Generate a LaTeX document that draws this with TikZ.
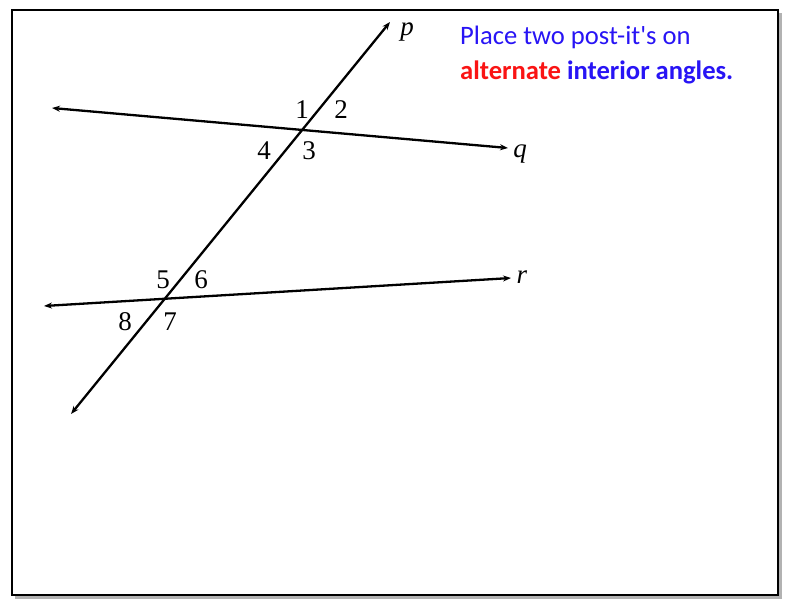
\documentclass[tikz,border=0pt]{standalone}
\usepackage{fontspec}
\setmainfont{Liberation Serif}
\newfontfamily\calibri{Carlito}
\usetikzlibrary{arrows.meta}
\definecolor{txtblue}{RGB}{40,20,245}
\definecolor{txtred}{RGB}{250,20,20}
\begin{document}
\begin{tikzpicture}[x=1pt,y=-1pt,
  geoline/.style={line width=2.3pt, {Stealth[length=8pt,width=6pt]}-{Stealth[length=8pt,width=6pt]}},
  num/.style={font=\fontsize{27}{27}\selectfont, inner sep=0pt},
  msg/.style={font=\calibri\fontsize{26.6}{26.6}\selectfont, inner sep=0pt, anchor=base west}]
\useasboundingbox (0,0) rectangle (789,602);
\fill[gray!60] (15,13) rectangle (782,599);
\draw[line width=1.5pt, fill=white] (12,10) rectangle (778,595);
\coordinate (q1) at (52,108);
\coordinate (q2) at (508,148);
\coordinate (p1) at (71,414);
\coordinate (p2) at (390,22);
\coordinate (r1) at (44,306);
\coordinate (r2) at (511,278);
\draw[geoline] (q1) -- (q2);
\draw[geoline] (p1) -- (p2);
\draw[geoline] (r1) -- (r2);
\node[num] (n1) at (302,110) {1};
\node[num] (n2) at (341,110) {2};
\node[num] (n4) at (264,151) {4};
\node[num] (n3) at (309,151) {3};
\node[num] (n5) at (163,280) {5};
\node[num] (n6) at (201,280) {6};
\node[num] (n8) at (125,322) {8};
\node[num] (n7) at (170,322) {7};
\node[num, anchor=base] (lp) at (407,36) {\textit{p}};
\node[num, anchor=base] (lq) at (520,157) {\textit{q}};
\node[num, anchor=base] (lr) at (522,283) {\textit{r}};
\node[msg, text=txtblue] (m1) at (460,45) {Place two post-it's on};
\node[msg] (m2) at (460,79) {\textcolor{txtred}{\bfseries alternate} \textcolor{txtblue}{\bfseries interior angles.}};
\end{tikzpicture}
\end{document}
